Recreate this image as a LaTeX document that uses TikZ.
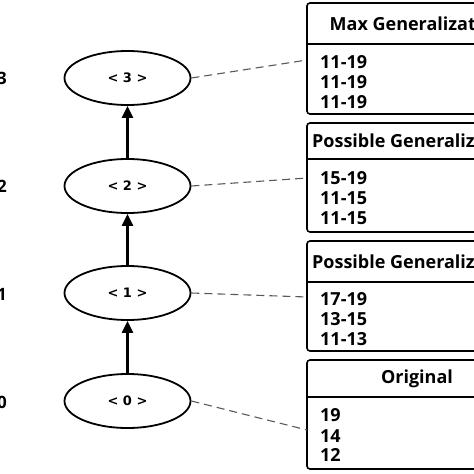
\documentclass[tikz,border=0pt]{standalone}
\usepackage{fontspec}
\setmainfont{Open Sans}
\newfontfamily\ellfont{DejaVu Sans}
\usetikzlibrary{shapes.geometric,arrows.meta}
\tikzset{
  lvl/.style={ellipse,draw,line width=1.8pt,minimum width=126pt,minimum height=54pt,inner sep=0pt,font=\ellfont\bfseries\fontsize{13}{15}\selectfont},
  lvlnum/.style={font=\bfseries\fontsize{17}{20}\selectfont,inner sep=0pt},
  tbl/.style={draw,line width=1.6pt,rounded corners=3pt},
  head/.style={font=\bfseries\fontsize{18}{20}\selectfont,inner sep=0pt},
  row/.style={font=\bfseries\fontsize{18}{20}\selectfont,inner sep=0pt,anchor=west},
  up/.style={line width=2.2pt,-{Triangle[length=12pt,width=11pt]}},
  link/.style={gray!70!black,line width=1.1pt,dash pattern=on 8pt off 5pt}
}
\begin{document}
\begin{tikzpicture}[x=1pt,y=-1pt]
\useasboundingbox (0,0) rectangle (474,474);
\clip (0,0) rectangle (474,474);
% level labels
\node[lvlnum] (l3) at (2,78) {3};
\node[lvlnum] (l2) at (2,186) {2};
\node[lvlnum] (l1) at (2,294) {1};
\node[lvlnum] (l0) at (2,402) {0};
% ellipses
\node[lvl] (e3) at (127.5,78) {< 3 >};
\node[lvl] (e2) at (127.5,186) {< 2 >};
\node[lvl] (e1) at (127.5,293) {< 1 >};
\node[lvl] (e0) at (127.5,401) {< 0 >};
\draw[up] (e0) -- (e1);
\draw[up] (e1) -- (e2);
\draw[up] (e2) -- (e3);
% tables
\draw[tbl] (307,3) rectangle (527,114);
\draw[line width=1.6pt] (307,44) -- (527,44);
\draw[tbl] (307,123) rectangle (527,232);
\draw[line width=1.6pt] (307,159) -- (527,159);
\draw[tbl] (307,241) rectangle (527,351);
\draw[line width=1.6pt] (307,282) -- (527,282);
\draw[tbl] (307,360) rectangle (527,469);
\draw[line width=1.6pt] (307,397) -- (527,397);
\coordinate (t3) at (307,60);
\coordinate (t2) at (307,178);
\coordinate (t1) at (307,297);
\coordinate (t0) at (307,430);
% headers
\node[head] (h3) at (417,24) {Max Generalization};
\node[head] (h2) at (417,141) {Possible Generalization};
\node[head] (h1) at (417,262) {Possible Generalization};
\node[head] (h0) at (417,379) {Original};
% rows
\node[row] (r31) at (320,62) {11-19};
\node[row] (r32) at (320,82) {11-19};
\node[row] (r33) at (320,102) {11-19};
\node[row] (r21) at (320,178) {15-19};
\node[row] (r22) at (320,198) {11-15};
\node[row] (r23) at (320,218) {11-15};
\node[row] (r11) at (320,299) {17-19};
\node[row] (r12) at (320,319) {13-15};
\node[row] (r13) at (320,339) {11-13};
\node[row] (r01) at (320,415) {19};
\node[row] (r02) at (320,436) {14};
\node[row] (r03) at (320,455) {12};
% dashed links
\draw[link] (e3.east) -- (t3);
\draw[link] (e2.east) -- (t2);
\draw[link] (e1.east) -- (t1);
\draw[link] (e0.east) -- (t0);
\end{tikzpicture}
\end{document}
